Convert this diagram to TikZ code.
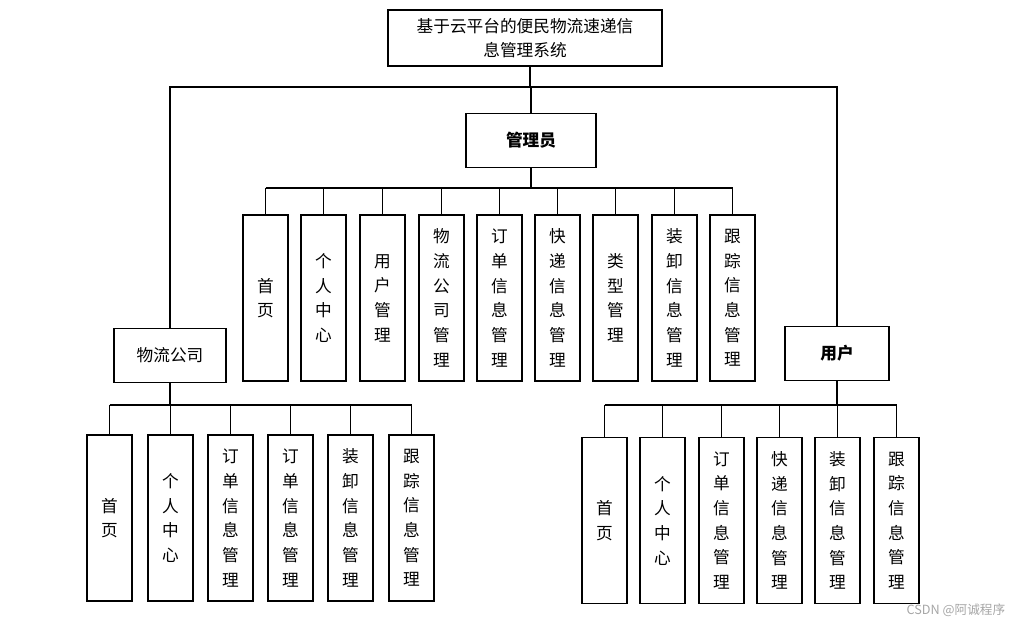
\documentclass[tikz,border=0pt]{standalone}
\usepackage{fontspec}
\setmainfont{Noto Sans CJK SC}
\begin{document}
\begin{tikzpicture}[x=0.75pt,y=-0.75pt,
  box/.style={draw,line width=0.8pt,inner sep=0pt,align=center,font=\fontsize{12.5}{18.5}\selectfont},
  vbox/.style={box,minimum width=33.75pt,minimum height=124.5pt},
  ln/.style={line width=1pt}]
\useasboundingbox (0,0) rectangle (1023,629);
\node[box,minimum width=205.5pt,minimum height=42pt] (top) at (525,38) {基于云平台的便民物流速递信\\息管理系统};
\node[box,minimum width=97.5pt,minimum height=41pt,font=\fontsize{12.5}{15}\selectfont\bfseries] (mgr) at (531,140.5) {管理员};
\node[box,minimum width=84pt,minimum height=41pt] (wl) at (170,355.5) {物流公司};
\node[box,minimum width=78pt,minimum height=41pt,font=\fontsize{12.5}{15}\selectfont\bfseries] (yh) at (837,353.5) {用户};
% managers children
\foreach \i/\x/\t in {1/265.5/首\\页,2/323.5/个\\人\\中\\心,3/382.5/用\\户\\管\\理,4/441.5/物\\流\\公\\司\\管\\理,5/499.5/订\\单\\信\\息\\管\\理,6/557.5/快\\递\\信\\息\\管\\理,7/615.5/类\\型\\管\\理,8/674.5/装\\卸\\信\\息\\管\\理,9/732.5/跟\\踪\\信\\息\\管\\理}
  \node[vbox] (m\i) at (\x,298) {\t};
\foreach \i/\x/\t in {1/109.5/首\\页,2/170.5/个\\人\\中\\心,3/230.5/订\\单\\信\\息\\管\\理,4/290.5/订\\单\\信\\息\\管\\理,5/350.5/装\\卸\\信\\息\\管\\理,6/411.5/跟\\踪\\信\\息\\管\\理}
  \node[vbox] (w\i) at (\x,518) {\t};
\foreach \i/\x/\t in {1/604.5/首\\页,2/662.5/个\\人\\中\\心,3/721.5/订\\单\\信\\息\\管\\理,4/779.5/快\\递\\信\\息\\管\\理,5/837.5/装\\卸\\信\\息\\管\\理,6/896.5/跟\\踪\\信\\息\\管\\理}
  \node[vbox] (u\i) at (\x,520.5) {\t};
\coordinate (b0) at (0,87);
\coordinate (b1) at (0,188);
\coordinate (b2) at (0,405);
\draw[ln] (top.south -| 530,0) -- (530,87);
\draw[ln] (wl.north) -- (wl.north |- b0) -- (yh.north |- b0) -- (yh.north);
\draw[ln] (mgr.north) -- (mgr.north |- b0);
\draw[ln] (mgr.south) -- (mgr.south |- b1);
\draw[ln] (m1.north |- b1) -- (m9.north |- b1);
\foreach \i in {1,...,9} \draw[ln] (m\i.north) -- (m\i.north |- b1);
\draw[ln] (wl.south) -- (wl.south |- b2);
\draw[ln] (w1.north |- b2) -- (w6.north |- b2);
\foreach \i in {1,...,6} \draw[ln] (w\i.north) -- (w\i.north |- b2);
\draw[ln] (yh.south) -- (yh.south |- b2);
\draw[ln] (u1.north |- b2) -- (u6.north |- b2);
\foreach \i in {1,...,6} \draw[ln] (u\i.north) -- (u\i.north |- b2);
\node[text=gray!70,font=\fontsize{9.5}{11}\selectfont,anchor=east] (wm) at (1010,610) {CSDN @阿诚程序};
\end{tikzpicture}
\end{document}
